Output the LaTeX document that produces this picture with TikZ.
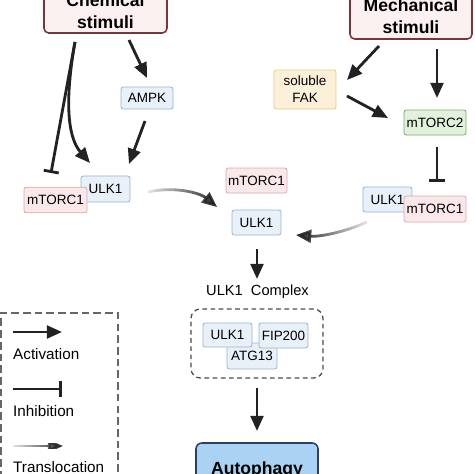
\documentclass[tikz,border=0pt]{standalone}
\usepackage{fontspec}
\setmainfont{Liberation Sans}
\usetikzlibrary{arrows.meta,fadings}
\definecolor{ulkfill}{HTML}{E8F1FA}
\definecolor{ulkdraw}{HTML}{9DB3C8}
\definecolor{torfill}{HTML}{FBE8E8}
\definecolor{tordraw}{HTML}{DCA9A9}
\definecolor{fakfill}{HTML}{FDF0D9}
\definecolor{fakdraw}{HTML}{E9CB82}
\definecolor{twofill}{HTML}{E1F1DB}
\definecolor{twodraw}{HTML}{72AE66}
\definecolor{stimfill}{HTML}{FCF1F1}
\definecolor{stimdraw}{HTML}{7A3636}
\definecolor{autofill}{HTML}{A9D2F3}
\definecolor{autodraw}{HTML}{2B3E6E}
\definecolor{arrowcol}{HTML}{222222}
\tikzfading[name=fadeR, left color=transparent!90, middle color=transparent!15, right color=transparent!0]
\tikzfading[name=fadeL, left color=transparent!0, middle color=transparent!15, right color=transparent!90]

\begin{document}
\begin{tikzpicture}[x=0.03cm,y=-0.03cm,
	prot/.style={draw,rounded corners=2pt,line width=0.7pt,inner sep=0pt,font=\fontsize{11.5}{14.5}\selectfont,align=center},
	ulk/.style={prot,fill=ulkfill,draw=ulkdraw,minimum width=1.47cm,minimum height=0.75cm},
	tor/.style={prot,fill=torfill,draw=tordraw,minimum width=1.86cm,minimum height=0.77cm},
	stim/.style={draw=stimdraw,fill=stimfill,line width=1.3pt,rounded corners=4pt,align=center,font=\fontsize{15}{18.7}\selectfont\bfseries,inner sep=0pt},
	act/.style={arrowcol,line width=2.4pt,-{Triangle[length=13pt,width=11pt]}},
	inh/.style={arrowcol,line width=2.4pt,-{Bar[width=13pt]}},
	trans/.style={act}]
	\useasboundingbox (0,0) rectangle (474,474);
	\clip (0,0) rectangle (474,474);
	% stimuli
	\node[stim,minimum width=3.69cm,minimum height=1.32cm] (chem) at (105.5,11) {Chemical\\stimuli};
	\node[stim,minimum width=3.66cm,minimum height=1.38cm] (mech) at (411,16) {Mechanical\\stimuli};
	% proteins
	\node[ulk,minimum width=1.56cm,minimum height=0.66cm] (ampk) at (147,98) {AMPK};
	\node[ulk,minimum height=0.78cm] (ulkL) at (105.5,189) {ULK1};
	\node[tor,minimum width=1.89cm] (torL) at (55.5,200) {mTORC1};
	\node[tor,minimum width=1.83cm,minimum height=0.75cm] (torC) at (256.5,180.5) {mTORC1};
	\node[ulk] (ulkC) at (256.5,222.5) {ULK1};
	\node[prot,fill=fakfill,draw=fakdraw,minimum width=1.86cm,minimum height=1.17cm] (fak) at (305,89.5) {soluble\\FAK};
	\node[prot,fill=twofill,draw=twodraw,minimum width=1.86cm,minimum height=0.75cm] (torT) at (435,122.5) {mTORC2};
	\node[ulk] (ulkR) at (387.5,199.5) {ULK1};
	\node[tor,minimum height=0.78cm] (torR) at (435,209) {mTORC1};
	% ULK1 complex
	\node[font=\fontsize{12.5}{15}\selectfont] (cpxlabel) at (257.5,292) {ULK1\ \ Complex};
	\node[draw=black!70,line width=1.1pt,dash pattern=on 4pt off 3pt,rounded corners=8pt,minimum width=3.96cm,minimum height=2.07cm] (cpx) at (257,343.5) {};
	\node[ulk,minimum width=1.5cm,minimum height=0.78cm] (atg) at (252,356) {ATG13};
	\node[ulk,minimum height=0.72cm] (ulkX) at (227.5,335) {ULK1};
	\node[ulk] (fip) at (283.5,335.5) {FIP200};
	\node[draw=autodraw,fill=autofill,line width=1.3pt,rounded corners=5pt,minimum width=3.66cm,minimum height=1.62cm,font=\fontsize{15}{18}\selectfont\bfseries] (auto) at (257,470) {Autophagy};
	% legend
	\node[draw=black!60,line width=1.6pt,dash pattern=on 6.5pt off 3.5pt,minimum width=3.51cm,minimum height=5.82cm] (legend) at (59.5,410) {};
	\node[anchor=west,inner sep=0pt,font=\fontsize{13}{15}\selectfont] (tact) at (13,354) {Activation};
	\node[anchor=west,inner sep=0pt,font=\fontsize{13}{15}\selectfont] (tinh) at (13,411) {Inhibition};
	\node[anchor=west,inner sep=0pt,font=\fontsize{13}{15}\selectfont] (ttrans) at (13,467) {Translocation};
	% connector ends
	\coordinate (c0) at (75,42);
	\coordinate (c1) at (129,40);
	\coordinate (c2) at (147,78);
	\coordinate (c3) at (145,121);
	\coordinate (c4) at (129,164);
	\coordinate (c5) at (51,173);
	\coordinate (c6) at (90,163);
	\coordinate (c7) at (148,192);
	\coordinate (c8) at (217,207);
	\coordinate (m1) at (379,46);
	\coordinate (m2) at (347,80);
	\coordinate (m3) at (437,49);
	\coordinate (m4) at (437,98);
	\coordinate (m5) at (347,96);
	\coordinate (m6) at (388,118);
	\coordinate (m7) at (437,147);
	\coordinate (m8) at (437,182);
	\coordinate (m9) at (367,222);
	\coordinate (m10) at (296,235);
	\coordinate (u1) at (257,249);
	\coordinate (u2) at (257,279);
	\coordinate (u3) at (257,388);
	\coordinate (u4) at (257,431);
	\coordinate (l1) at (13,332);
	\coordinate (l2) at (62,332);
	\coordinate (l3) at (13,389);
	\coordinate (l4) at (62,389);
	\coordinate (l5) at (13,446);
	\coordinate (l6) at (63,446);
	% chemical side
	\draw[act] (c1) to (c2);
	\draw[act] (c3) to (c4);
	\draw[inh] (c0) to (c5);
	\draw[act] (c0) .. controls (63,110) and (70,140) .. (c6);
	\draw[trans,path fading=fadeR] (c7) .. controls (175,186) and (200,193) .. (c8);
	% mechanical side
	\draw[act] (m1) to (m2);
	\draw[act] (m3) to (m4);
	\draw[act] (m5) to (m6);
	\draw[inh] (m7) to (m8);
	\draw[trans,path fading=fadeL] (m9) .. controls (345,232) and (320,237) .. (m10);
	% down to autophagy
	\draw[act] (u1) to (u2);
	\draw[act] (u3) to (u4);
	% legend arrows
	\draw[act] (l1) to (l2);
	\draw[inh] (l3) to (l4);
	\draw[trans,path fading=fadeR] (l5) to (l6);
\end{tikzpicture}
\end{document}
